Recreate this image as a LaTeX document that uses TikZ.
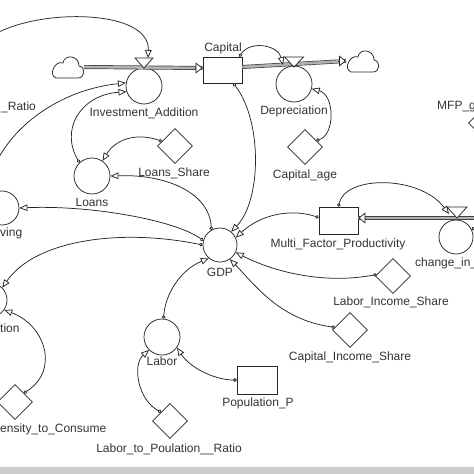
\documentclass[tikz,border=0pt]{standalone}
\usepackage{fontspec}
\setmainfont{Liberation Sans}
\usetikzlibrary{arrows.meta,shapes.geometric,calc}
\begin{document}
\begin{tikzpicture}[x=1pt,y=-1pt,
  every node/.style={font=\fontsize{12}{14}\selectfont, text=black!80},
  aux/.style={circle,draw=black!85,line width=0.75pt,minimum size=36pt,inner sep=0pt},
  smallaux/.style={circle,draw=black!85,line width=0.75pt,minimum size=34pt,inner sep=0pt},
  stock/.style={rectangle,draw=black!85,line width=0.75pt,minimum width=39pt,minimum height=26pt,inner sep=0pt},
  const/.style={diamond,draw=black!85,line width=0.75pt,minimum size=35pt,inner sep=0pt},
  lbl/.style={inner sep=0pt},
  conn/.style={draw=black!85,line width=0.75pt,{Circle[fill=white,length=3.5pt]}-{Triangle[fill=white,length=8pt,width=6.5pt]}},
  connfree/.style={draw=black!85,line width=0.75pt,-{Triangle[fill=white,length=8pt,width=6.5pt]}},
  connout/.style={draw=black!85,line width=0.75pt,{Circle[fill=white,length=3.5pt]}-},
  pipe/.style={draw=black!75,line width=0.7pt,double=gray!60,double distance=2.6pt},
  pipetip/.style={draw=black!85,line width=0.75pt,-{Triangle[fill=white,length=7pt,width=11pt]}},
  valve/.style={draw=black!85,line width=0.75pt,fill=white},
  vcloud/.pic={\draw[line width=0.75pt,draw=black!85,fill=white]
     (-12,11) -- (10,11) .. controls (17,11) and (18,0) .. (11,-1)
     .. controls (11,-12) and (-4,-13) .. (-5,-4)
     .. controls (-13,-7) and (-20,8) .. (-12,11) -- cycle;}]
\useasboundingbox (0,0) rectangle (474,474);
\clip (0,0) rectangle (474,474);
\fill[gray!40] (0,467) rectangle (474,474);

% stocks
\node[stock] (Cap) at (222.5,70) {};
\node[lbl] at (223,48) {Capital};
\node[stock,minimum height=27pt] (MFP) at (338.5,220.5) {};
\node[lbl] at (338,244) {Multi\_Factor\_Productivity};
\node[stock,minimum width=40pt,minimum height=28pt] (PopP) at (257,380) {};
\node[lbl] at (258,403) {Population\_P};

% clouds
\coordinate (cl1) at (68,67);
\coordinate (cl2) at (363,61);
\pic at (cl1) {vcloud};
\pic at (cl2) {vcloud};

% flows / auxiliaries
\node[aux] (IA) at (144,86) {};
\node[lbl] at (144,113) {Investment\_Addition};
\node[aux] (Dep) at (294,84) {};
\node[lbl] at (294,111) {Depreciation};
\node[aux] (Loans) at (92,176) {};
\node[lbl] at (92,202) {Loans};
\node[smallaux] (GDP) at (220,245) {};
\node[lbl] at (220,272) {GDP};
\node[aux] (Labor) at (162,337) {};
\node[lbl] at (162,361) {Labor};
\node[smallaux] (Sav) at (2,208) {};
\node[lbl,anchor=west] at (0,233) {ving};
\node[smallaux] (Cons) at (-10,300) {};
\node[lbl,anchor=west] at (0,328) {tion};
\node[smallaux] (Ch) at (456,237) {};
\node[lbl,anchor=west] at (415,263) {change\_in\_};

% constants
\node[const] (CapAge) at (305,147) {};
\node[lbl] at (305,175) {Capital\_age};
\node[const] (LS) at (175,146) {};
\node[lbl] at (174,173) {Loans\_Share};
\node[const] (LIS) at (393,276) {};
\node[lbl] at (391,302) {Labor\_Income\_Share};
\node[const] (CIS) at (350,330) {};
\node[lbl] at (350,357) {Capital\_Income\_Share};
\node[const] (LtPR) at (170,421) {};
\node[lbl] at (169,449) {Labor\_to\_Poulation\_\_Ratio};
\node[const] (Prop) at (15,402) {};
\node[lbl,anchor=west] at (0,429) {ensity\_to\_Consume};
\node[const] (MFPg) at (486,123) {};
\node[lbl,anchor=west] at (437,107) {MFP\_g};
\node[lbl,anchor=west] at (1,107) {\_Ratio};

% valves and free ends
\coordinate (vIA) at (144,68);
\coordinate (vDep) at (294,67);
\coordinate (vCh) at (457,218);
\coordinate (vIAtop) at (148,58);
\coordinate (vDepL) at (283,65);
\coordinate (vChL) at (449,214);
\coordinate (offL1) at (-3,33);
\coordinate (offL2) at (-3,161);
\coordinate (offR) at (486,221);
\coordinate (srcR) at (480,218);

% pipe end points
\coordinate (capIn) at ($(Cap.west)+(0,-2)$);
\coordinate (capOut) at ($(Cap.east)+(0,-3)$);
\coordinate (cl1R) at ($(cl1)+(16,0)$ |- capIn);
\coordinate (cl2L) at ($(cl2)+(-17,0)$ |- capOut);
\coordinate (mfpIn) at ($(MFP.east)+(0,-2.5)$);

% pipes
\draw[pipe] (cl1R) -- (capIn);
\draw[pipetip] ($(capIn)+(-8,0)$) -- (capIn);
\draw[pipe] (capOut) -- (cl2L);
\draw[pipetip] ($(cl2L)+(-8,0)$) -- (cl2L);
\draw[pipe] (srcR) -- (mfpIn);
\draw[pipetip] ($(mfpIn)+(8,0)$) -- (mfpIn);

\draw[valve] (vIA) -- ++(-9,-10) -- ++(18,0) -- cycle;
\draw[valve] (vDep) -- ++(-9.5,-10) -- ++(19,0) -- cycle;
\draw[valve] (vCh) -- ++(-10,-11) -- ++(20,0) -- cycle;

% connectors
\draw[connfree] (offL1) .. controls (45,8) and (150,10) .. (vIAtop);
\draw[connfree] (offL2) .. controls (15,125) and (60,90) .. (IA.170);
\draw[conn] (Loans.133) .. controls (60,130) and (80,95) .. (IA.198);
\draw[conn] (LS.160) .. controls (135,132) and (115,140) .. (Loans.55);
\draw[conn] (GDP.120) .. controls (210,195) and (170,174) .. (Loans.0);
\draw[conn] (GDP.165) .. controls (175,220) and (90,205) .. (Sav.0);
\draw[conn] (GDP.180) .. controls (120,228) and (35,240) .. (Cons.45);
\draw[conn] (Prop.45) .. controls (60,370) and (45,325) .. (Cons.-35);
\draw[conn] (Labor.85) .. controls (165,295) and (180,270) .. (GDP.230);
\draw[conn] (PopP.west) .. controls (215,380) and (190,368) .. (Labor.-35);
\draw[conn] (LtPR.135) .. controls (138,400) and (132,365) .. (Labor.-135);
\draw[conn] ($(Cap.south east)+(-9,0)$) .. controls (262,120) and (262,200) .. (GDP.50);
\draw[conn] ($(Cap.north east)+(-3,0)$) .. controls (250,40) and (278,45) .. (vDepL);
\draw[conn] ($(MFP.west)+(0,-3)$) .. controls (290,208) and (260,215) .. (GDP.25);
\draw[conn] (LIS.175) .. controls (320,285) and (270,270) .. (GDP.-25);
\draw[conn] (CIS.170) .. controls (280,320) and (255,285) .. (GDP.-55);
\draw[conn] (CapAge.30) .. controls (335,135) and (335,95) .. (Dep.-15);
\draw[conn] (MFP.north) .. controls (345,175) and (420,175) .. (vChL);
\draw[connout] (Ch.25) -- (offR);
\end{tikzpicture}
\end{document}
